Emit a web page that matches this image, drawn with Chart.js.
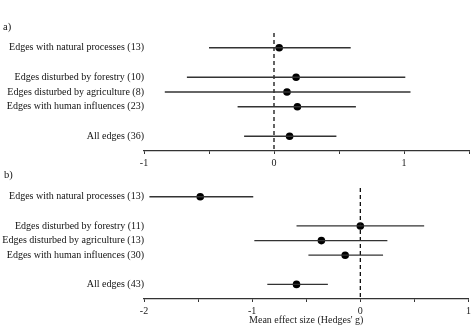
<!DOCTYPE html>
<html>
<head>
<meta charset="utf-8">
<script src="https://cdn.jsdelivr.net/npm/chart.js@4.4.1/dist/chart.umd.min.js"></script>
<style>
  body { margin: 0; background: #fff; }
  #wrap { position: relative; width: 474px; height: 335px; font-family: "Liberation Serif", serif; }
  canvas { position: absolute; left: 0; }
  .tag { position: absolute; font-size: 10.5px; color: #111; }
</style>
</head>
<body>
<div id="wrap">
  <canvas id="chartA" width="474" height="168" style="top:0"></canvas>
  <canvas id="chartB" width="474" height="167" style="top:168px"></canvas>
  <div class="tag" style="left:3px; top:21px">a)</div>
  <div class="tag" style="left:4px; top:169px">b)</div>
</div>
<script>
// panel a
const labelsA = ["Edges with natural processes (13)", "Edges disturbed by forestry (10)", "Edges disturbed by agriculture (8)", "Edges with human influences (23)", "All edges (36)"];
const rowsA = [0, 2, 3, 4, 6];
const meanA = [0.04, 0.17, 0.10, 0.18, 0.12];
const lowA = [-0.50, -0.67, -0.84, -0.28, -0.23];
const highA = [0.59, 1.01, 1.05, 0.63, 0.48];

// panel b
const labelsB = ["Edges with natural processes (13)", "Edges disturbed by forestry (11)", "Edges disturbed by agriculture (13)", "Edges with human influences (30)", "All edges (43)"];
const rowsB = [0, 2, 3, 4, 6];
const meanB = [-1.48, 0.0, -0.36, -0.14, -0.59];
const lowB = [-1.95, -0.59, -0.98, -0.48, -0.86];
const highB = [-0.99, 0.59, 0.25, 0.21, -0.30];

const serif = "Liberation Serif";

function forestPlot(id, labels, rows, mean, low, high, xMin, xMax, yMin, yMax, pad, xHeight, xTitle) {
    let datasets = [];

    rows.forEach((r, i) => {
        datasets.push({
            data: [{x: low[i], y: r}, {x: high[i], y: r}],
            showLine: true,
            borderColor: '#333',
            borderWidth: 1.3,
            pointRadius: 0
        });
    });

    // zero line
    datasets.push({
        data: [{x: 0, y: yMin}, {x: 0, y: yMax}],
        showLine: true,
        borderColor: '#111',
        borderWidth: 1.3,
        borderDash: [4, 3],
        pointRadius: 0
    });

    datasets.push({
        data: rows.map((r, i) => ({x: mean[i], y: r})),
        pointRadius: 3.8,
        pointBackgroundColor: '#000',
        pointBorderColor: '#000',
        pointBorderWidth: 0
    });

    return new Chart(document.getElementById(id), {
        type: 'scatter',
        data: { datasets: datasets },
        options: {
            responsive: false,
            animation: false,
            layout: { padding: pad },
            plugins: {
                legend: { display: false },
                tooltip: { enabled: false }
            },
            scales: {
                x: {
                    type: 'linear',
                    min: xMin,
                    max: xMax,
                    afterFit: scale => { scale.height = xHeight; },
                    border: { display: true, color: '#333', width: 1.3 },
                    grid: { display: true, drawOnChartArea: false, drawTicks: true, tickLength: 3, color: '#333' },
                    ticks: {
                        stepSize: 0.5,
                        autoSkip: false,
                        maxRotation: 0,
                        padding: 3,
                        color: '#222',
                        font: { family: serif, size: 10 },
                        callback: v => Number.isInteger(v) ? String(v) : ''
                    },
                    title: {
                        display: !!xTitle,
                        text: xTitle,
                        color: '#222',
                        padding: 9,
                        font: { family: serif, size: 10 }
                    }
                },
                y: {
                    type: 'linear',
                    reverse: true,
                    min: yMin,
                    max: yMax,
                    afterFit: scale => { scale.width = 144; },
                    afterBuildTicks: scale => { scale.ticks = rows.map(v => ({value: v})); },
                    border: { display: false },
                    grid: { display: false, drawTicks: false },
                    ticks: {
                        autoSkip: false,
                        padding: 0,
                        color: '#111',
                        font: { family: serif, size: 10 },
                        callback: v => labels[rows.indexOf(v)]
                    }
                }
            }
        }
    });
}

const chartA = forestPlot('chartA', labelsA, rowsA, meanA, lowA, highA, -1, 1.5, -1, 7,
    {top: 33, right: 5, left: 0, bottom: 0}, 17, '');
const chartB = forestPlot('chartB', labelsB, rowsB, meanB, lowB, highB, -2, 1, -0.6, 7,
    {top: 20, right: 5, left: 0, bottom: 0}, 36, "Mean effect size (Hedges' g)");
</script>
</body>
</html>
